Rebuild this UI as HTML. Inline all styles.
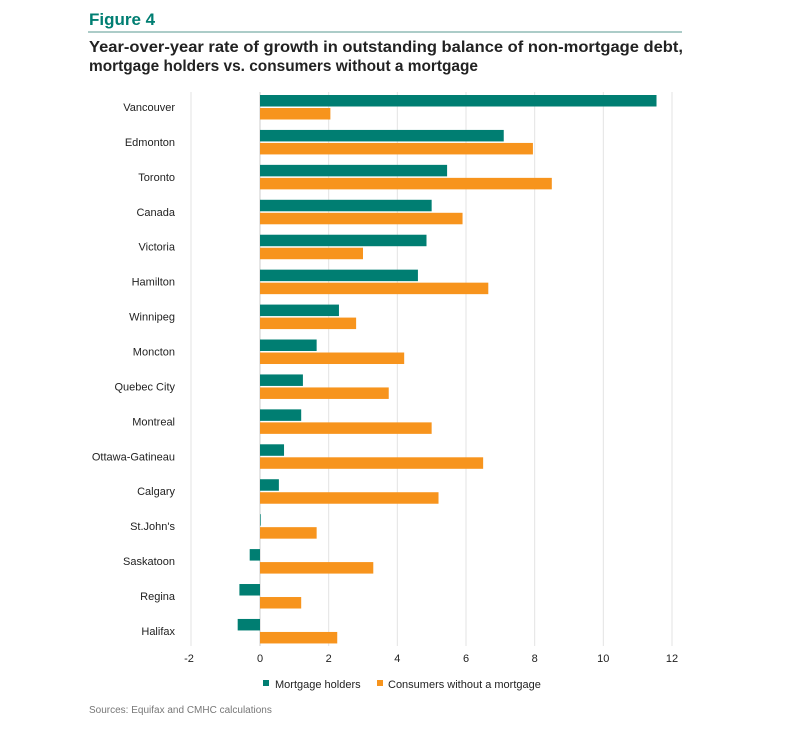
<!DOCTYPE html>
<html><head><meta charset="utf-8"><style>
body{margin:0;background:#fff;}
</style></head><body>
<svg width="800" height="730" xmlns="http://www.w3.org/2000/svg" font-family="Liberation Sans, sans-serif">
<rect width="800" height="730" fill="#fff"/>
<text x="89" y="25" font-size="17" font-weight="bold" fill="#007e72">Figure 4</text>
<line x1="88" y1="32" x2="682" y2="32" stroke="#5a9a92" stroke-width="1"/>
<text x="89" y="52" font-size="15.5" font-weight="bold" fill="#222" textLength="594" lengthAdjust="spacingAndGlyphs">Year-over-year rate of growth in outstanding balance of non-mortgage debt,</text>
<text x="89" y="71" font-size="15.5" font-weight="bold" fill="#222" textLength="389" lengthAdjust="spacingAndGlyphs">mortgage holders vs. consumers without a mortgage</text>
<g stroke="#e3e3e3" stroke-width="1">
<line x1="191" y1="92" x2="191" y2="646"/><line x1="328.7" y1="92" x2="328.7" y2="646"/><line x1="397.3" y1="92" x2="397.3" y2="646"/><line x1="466" y1="92" x2="466" y2="646"/><line x1="534.7" y1="92" x2="534.7" y2="646"/><line x1="603.3" y1="92" x2="603.3" y2="646"/><line x1="672" y1="92" x2="672" y2="646"/>
<line x1="260" y1="92" x2="260" y2="646" stroke="#ccc"/>
</g>
<g id="bars"></g>
<g font-size="11" fill="#222" text-anchor="middle">
<text x="189" y="662">-2</text><text x="260" y="662">0</text><text x="328.7" y="662">2</text><text x="397.3" y="662">4</text><text x="466" y="662">6</text><text x="534.7" y="662">8</text><text x="603.3" y="662">10</text><text x="672" y="662">12</text>
</g>
<rect x="263" y="680" width="6" height="6" fill="#007e72"/>
<text x="275" y="688" font-size="11" fill="#222">Mortgage holders</text>
<rect x="377" y="680" width="6" height="6" fill="#f7941d"/>
<text x="388" y="688" font-size="11" fill="#222">Consumers without a mortgage</text>
<text x="89" y="713" font-size="10" fill="#777">Sources: Equifax and CMHC calculations</text>
</svg>
<script>
var d=[["Vancouver",11.55,2.05],["Edmonton",7.1,7.95],["Toronto",5.45,8.5],["Canada",5.0,5.9],["Victoria",4.85,3.0],["Hamilton",4.6,6.65],["Winnipeg",2.3,2.8],["Moncton",1.65,4.2],["Quebec City",1.25,3.75],["Montreal",1.2,5.0],["Ottawa-Gatineau",0.7,6.5],["Calgary",0.55,5.2],["St.John's",0.02,1.65],["Saskatoon",-0.3,3.3],["Regina",-0.6,1.2],["Halifax",-0.65,2.25]];
var g=document.getElementById("bars"),z=260,s=34.33,h="";
d.forEach(function(r,i){var y=95+i*34.93;
function b(v,yy,c){var x=v<0?z+v*s:z,w=Math.max(Math.abs(v)*s,0.6);h+='<rect x="'+x+'" y="'+yy+'" width="'+w+'" height="11.5" fill="'+c+'"/>';}
b(r[1],y,"#007e72");b(r[2],y+13,"#f7941d");
h+='<text x="175" y="'+(y+16)+'" font-size="11" fill="#222" text-anchor="end">'+r[0]+'</text>';});
g.innerHTML=h;
</script>
</body></html>
